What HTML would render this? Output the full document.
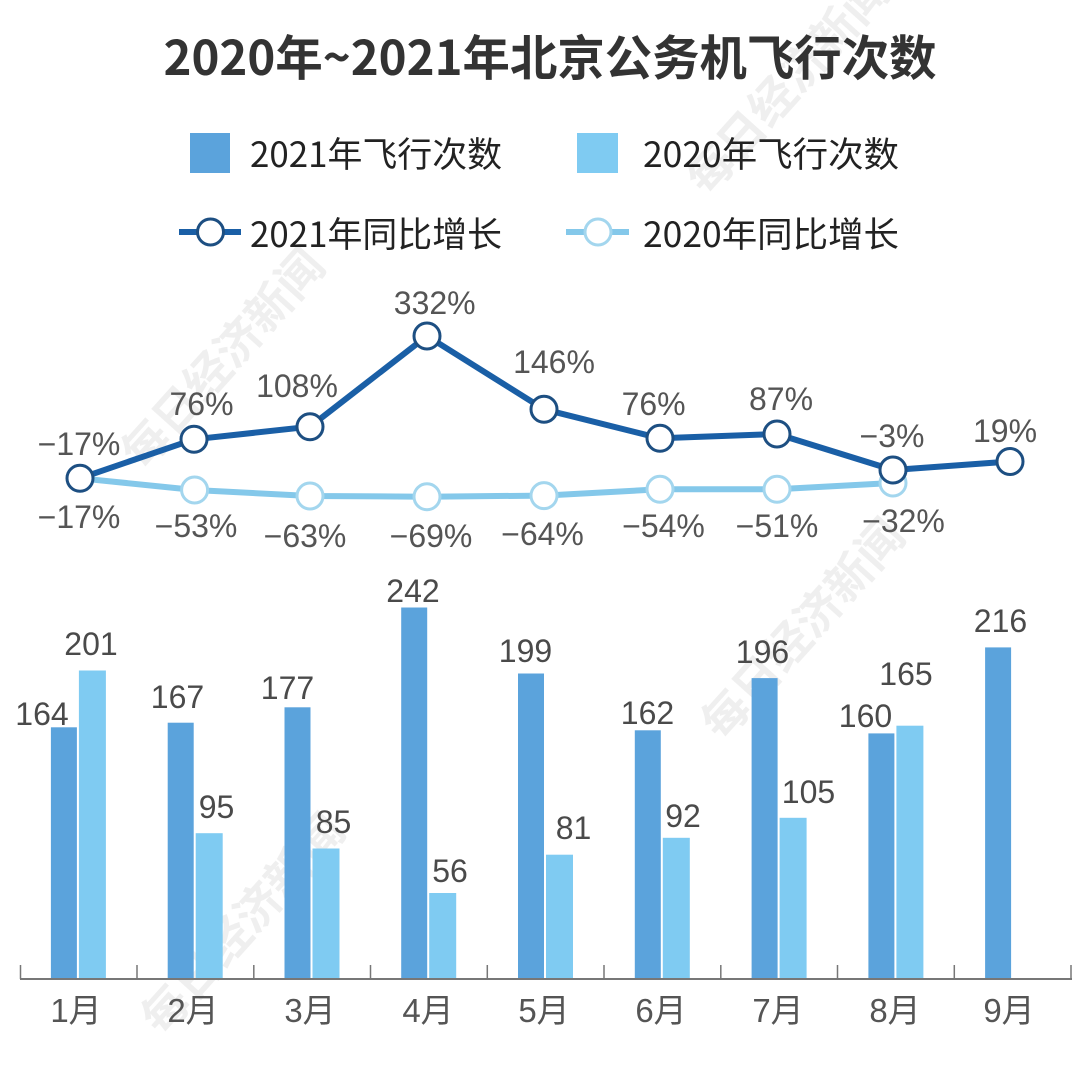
<!DOCTYPE html>
<html>
<head>
<meta charset="utf-8">
<style>
  html, body { margin:0; padding:0; background:#ffffff; }
  body { width:1080px; height:1068px; overflow:hidden; }
  svg { display:block; }
  .cj { font-family: "Noto Sans CJK SC", "WenQuanYi Zen Hei", sans-serif; }
  .lb { font-family: "Liberation Sans", "Noto Sans CJK SC", sans-serif; }
</style>
</head>
<body>
<svg width="1080" height="1068" viewBox="0 0 1080 1068" xmlns="http://www.w3.org/2000/svg">
  <rect x="0" y="0" width="1080" height="1068" fill="#ffffff"/>

  <!-- watermarks -->
  <g class="cj" font-size="46" font-weight="bold" fill="#efefef" text-anchor="middle">
    <text transform="translate(235,370) rotate(-48)">每日经济新闻</text>
    <text transform="translate(815,640) rotate(-48)">每日经济新闻</text>
    <text transform="translate(255,935) rotate(-48)">每日经济新闻</text>
    <text transform="translate(800,95) rotate(-48)">每日经济新闻</text>
  </g>

  <!-- title -->
  <text class="cj" x="550" y="75" font-size="48" font-weight="bold" fill="#333333" text-anchor="middle" textLength="773" lengthAdjust="spacingAndGlyphs">2020年~2021年北京公务机飞行次数</text>

  <!-- legend row 1 -->
  <rect x="190" y="133" width="40" height="40" fill="#5ba3dc"/>
  <text class="cj" x="250" y="167" font-size="35" fill="#222222" textLength="252" lengthAdjust="spacingAndGlyphs">2021年飞行次数</text>
  <rect x="577" y="133" width="41" height="40" fill="#7fcbf2"/>
  <text class="cj" x="643" y="167" font-size="35" fill="#222222" textLength="256" lengthAdjust="spacingAndGlyphs">2020年飞行次数</text>

  <!-- legend row 2 -->
  <line x1="179" y1="232" x2="241" y2="232" stroke="#1a5fa6" stroke-width="6"/>
  <circle cx="210.5" cy="232" r="13" fill="#ffffff" stroke="#1d4f82" stroke-width="3"/>
  <text class="cj" x="250" y="247" font-size="35" fill="#222222" textLength="252" lengthAdjust="spacingAndGlyphs">2021年同比增长</text>
  <line x1="566" y1="232" x2="629" y2="232" stroke="#84c8ea" stroke-width="6"/>
  <circle cx="598" cy="232" r="13" fill="#ffffff" stroke="#a3d6ee" stroke-width="3"/>
  <text class="cj" x="643" y="247" font-size="35" fill="#222222" textLength="256" lengthAdjust="spacingAndGlyphs">2020年同比增长</text>

  <!-- 2020 line (light) -->
  <polyline points="80,478.3 194.6,490 310,496 427,496.7 544,495.6 660,489.3 777,489.3 893,483" fill="none" stroke="#84c8ea" stroke-width="6" stroke-linejoin="round"/>
  <g fill="#ffffff" stroke="#a3d6ee" stroke-width="3">
    <circle cx="194.6" cy="490" r="13"/>
    <circle cx="310" cy="496" r="13"/>
    <circle cx="427" cy="496.7" r="13"/>
    <circle cx="544" cy="495.6" r="13"/>
    <circle cx="660" cy="489.3" r="13"/>
    <circle cx="777" cy="489.3" r="13"/>
    <circle cx="893" cy="483" r="13"/>
  </g>

  <!-- 2021 line (dark) -->
  <polyline points="80,478.3 194,439.3 310,426.7 427,336 544,409.3 660,438.3 777,434 893,470 1010,461.5" fill="none" stroke="#1a5fa6" stroke-width="6" stroke-linejoin="round"/>
  <g fill="#ffffff" stroke="#1d4f82" stroke-width="3">
    <circle cx="80" cy="478.3" r="13"/>
    <circle cx="194" cy="439.3" r="13"/>
    <circle cx="310" cy="426.7" r="13"/>
    <circle cx="427" cy="336" r="13"/>
    <circle cx="544" cy="409.3" r="13"/>
    <circle cx="660" cy="438.3" r="13"/>
    <circle cx="777" cy="434" r="13"/>
    <circle cx="893" cy="470" r="13"/>
    <circle cx="1010" cy="461.5" r="13"/>
  </g>

  <!-- percent labels -->
  <g class="lb" font-size="32" fill="#555555" text-anchor="middle">
    <text x="79" y="455">−17%</text>
    <text x="201.5" y="415">76%</text>
    <text x="297" y="397">108%</text>
    <text x="434.7" y="314">332%</text>
    <text x="554" y="373">146%</text>
    <text x="653.6" y="415">76%</text>
    <text x="781" y="410">87%</text>
    <text x="892" y="447">−3%</text>
    <text x="1005" y="442">19%</text>

    <text x="79" y="528">−17%</text>
    <text x="196" y="537">−53%</text>
    <text x="305" y="547">−63%</text>
    <text x="431" y="547">−69%</text>
    <text x="542.5" y="545">−64%</text>
    <text x="663.5" y="537">−54%</text>
    <text x="777" y="537">−51%</text>
    <text x="903.5" y="532">−32%</text>
  </g>

  <!-- bars 2021 (dark) -->
  <g fill="#5ba3dc">
    <rect x="50.9" y="727.3" width="26" height="251.7"/>
    <rect x="167.7" y="722.7" width="26" height="256.3"/>
    <rect x="284.5" y="707.3" width="26" height="271.7"/>
    <rect x="401.2" y="607.5" width="26" height="371.5"/>
    <rect x="518.0" y="673.5" width="26" height="305.5"/>
    <rect x="634.8" y="730.3" width="26" height="248.7"/>
    <rect x="751.6" y="678.1" width="26" height="300.9"/>
    <rect x="868.4" y="733.4" width="26" height="245.6"/>
    <rect x="985.1" y="647.4" width="26" height="331.6"/>
  </g>
  <!-- bars 2020 (light) -->
  <g fill="#7fcbf2">
    <rect x="78.9" y="670.5" width="27" height="308.5"/>
    <rect x="195.7" y="833.2" width="27" height="145.8"/>
    <rect x="312.5" y="848.5" width="27" height="130.5"/>
    <rect x="429.2" y="893.0" width="27" height="86.0"/>
    <rect x="546.0" y="854.7" width="27" height="124.3"/>
    <rect x="662.8" y="837.8" width="27" height="141.2"/>
    <rect x="779.6" y="817.8" width="27" height="161.2"/>
    <rect x="896.4" y="725.7" width="27" height="253.3"/>
  </g>

  <!-- bar value labels -->
  <g class="lb" font-size="32" fill="#4a4a4a" text-anchor="middle">
    <text x="42" y="725">164</text>
    <text x="91" y="655">201</text>
    <text x="177.5" y="708">167</text>
    <text x="216.5" y="818">95</text>
    <text x="287.5" y="699">177</text>
    <text x="333.5" y="833">85</text>
    <text x="413" y="602">242</text>
    <text x="450" y="882">56</text>
    <text x="525.5" y="662">199</text>
    <text x="573.5" y="839">81</text>
    <text x="647.5" y="724">162</text>
    <text x="683" y="827">92</text>
    <text x="762.5" y="663">196</text>
    <text x="808.5" y="803">105</text>
    <text x="865.5" y="727">160</text>
    <text x="906" y="685">165</text>
    <text x="1000.5" y="632">216</text>
  </g>

  <!-- axis -->
  <line x1="20" y1="979" x2="1072" y2="979" stroke="#777777" stroke-width="2"/>
  <g stroke="#777777" stroke-width="1.5">
    <line x1="20.5" y1="965" x2="20.5" y2="979"/>
    <line x1="137" y1="965" x2="137" y2="979"/>
    <line x1="253.8" y1="965" x2="253.8" y2="979"/>
    <line x1="370.5" y1="965" x2="370.5" y2="979"/>
    <line x1="487.3" y1="965" x2="487.3" y2="979"/>
    <line x1="604" y1="965" x2="604" y2="979"/>
    <line x1="720.8" y1="965" x2="720.8" y2="979"/>
    <line x1="837.5" y1="965" x2="837.5" y2="979"/>
    <line x1="954.3" y1="965" x2="954.3" y2="979"/>
    <line x1="1071" y1="965" x2="1071" y2="979"/>
  </g>

  <!-- month labels -->
  <g class="lb" font-size="33" fill="#555555" text-anchor="middle">
    <text x="76" y="1022">1月</text>
    <text x="193" y="1022">2月</text>
    <text x="310" y="1022">3月</text>
    <text x="428" y="1022">4月</text>
    <text x="544" y="1022">5月</text>
    <text x="661" y="1022">6月</text>
    <text x="778" y="1022">7月</text>
    <text x="895" y="1022">8月</text>
    <text x="1009" y="1022">9月</text>
  </g>
</svg>
</body>
</html>
